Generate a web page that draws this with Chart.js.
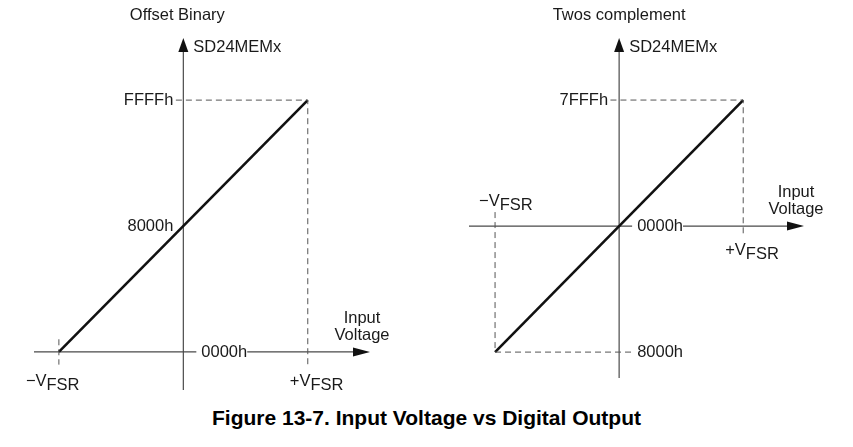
<!DOCTYPE html>
<html>
<head>
<meta charset="utf-8">
<script src="https://cdn.jsdelivr.net/npm/chart.js@4.4.1/dist/chart.umd.min.js"></script>
<style>
    body { margin: 0; background: #fff; width: 853px; height: 447px; position: relative; overflow: hidden; }
    #graphe1 { position: absolute; left: 0; top: 0; }
    #graphe2 { position: absolute; left: 426px; top: 0; }
    #legende {
        position: absolute; left: 0; top: 406px; width: 853px; line-height: 26px;
        text-align: center; font: bold 21px "Liberation Sans", Arial, sans-serif; color: #000;
    }
</style>
</head>
<body>
<canvas id="graphe1" width="426" height="400"></canvas>
<canvas id="graphe2" width="427" height="400"></canvas>
<div id="legende">Figure 13-7. Input Voltage vs Digital Output</div>
<script>
// Tension d'entrée en unités de VFSR : -VFSR et +VFSR
const tensionEntree = [-1, 1];

// Codes de sortie pour chaque format
const codesBinaireDecale = [0x0000, 0xFFFF];
const codesComplementDeux = [-0x8000, 0x7FFF];

// Graduations de l'axe vertical
const graduationsBinaireDecale = [0xFFFF, 0x8000, 0x0000];
const etiquettesBinaireDecale = ['FFFFh', '8000h', '0000h'];
const graduationsComplementDeux = [0x7FFF, 0x0000, -0x8000];
const etiquettesComplementDeux = ['7FFFh', '0000h', '8000h'];

// Lignes de rappel en pointillés (x en VFSR, y en code)
const rappelsBinaireDecale = [
    [[-0.06, 0xFFFF], [1, 0xFFFF], [1, -3300]],
    [[-1, 3300], [-1, -3300]],
];
const rappelsComplementDeux = [
    [[-0.07, 0x7FFF], [1, 0x7FFF], [1, -2860]],
    [[-1, 3640], [-1, -0x8000], [0.1, -0x8000]],
];

const titres = ['Offset Binary', 'Twos complement'];
const nomRegistre = 'SD24MEMx';
const nomAxeX = ['Input', 'Voltage'];

const POLICE = '16.5px "Liberation Sans", Arial, sans-serif';
const COULEUR_TEXTE = '#1a1a1a';
const COULEUR_AXE = '#4a4a4a';


function texteVFSR(ctx, signe, x, y) {
    // "-V" puis "FSR" légèrement abaissé
    ctx.textAlign = 'left';
    ctx.textBaseline = 'alphabetic';
    ctx.fillText(signe + 'V', x, y - 4);
    ctx.fillText('FSR', x + ctx.measureText(signe + 'V').width, y);
}


const schema = {
    id: 'schema',
    beforeDatasetsDraw(chart, args, opts) {
        const ctx = chart.ctx;
        const a = chart.chartArea;
        const x0 = chart.scales.x.getPixelForValue(0);
        const y0 = chart.scales.y.getPixelForValue(0);
        ctx.save();
        ctx.strokeStyle = COULEUR_AXE;
        ctx.fillStyle = '#111';
        ctx.lineWidth = 1.2;
        // axe vertical avec flèche
        ctx.beginPath();
        ctx.moveTo(x0, a.top + 10);
        ctx.lineTo(x0, a.bottom);
        ctx.moveTo(a.left, y0);
        ctx.lineTo(a.right - 12, y0);
        ctx.stroke();
        ctx.beginPath();
        ctx.moveTo(x0, a.top);
        ctx.lineTo(x0 - 5, a.top + 14);
        ctx.lineTo(x0 + 5, a.top + 14);
        ctx.closePath();
        ctx.fill();
        // flèche de l'axe horizontal
        ctx.beginPath();
        ctx.moveTo(a.right, y0);
        ctx.lineTo(a.right - 17, y0 - 4.5);
        ctx.lineTo(a.right - 17, y0 + 4.5);
        ctx.closePath();
        ctx.fill();
        ctx.restore();
    },
    afterDatasetsDraw(chart, args, opts) {
        const ctx = chart.ctx;
        const a = chart.chartArea;
        const sx = chart.scales.x;
        const sy = chart.scales.y;
        const x0 = sx.getPixelForValue(0);
        const y0 = sy.getPixelForValue(0);
        ctx.save();
        ctx.font = POLICE;
        ctx.fillStyle = COULEUR_TEXTE;

        // titre et nom du registre
        ctx.textAlign = 'center';
        ctx.textBaseline = 'middle';
        ctx.fillText(opts.titre, x0 + opts.decalageTitre, 15);
        ctx.textAlign = 'left';
        ctx.fillText(nomRegistre, x0 + 10, a.top + 9);

        // étiquettes de l'axe vertical
        opts.graduations.forEach((valeur, i) => {
            const y = sy.getPixelForValue(valeur);
            const texte = opts.etiquettes[i];
            if (opts.cotes[i] === 'g') {
                ctx.textAlign = 'right';
                ctx.fillText(texte, x0 - opts.ecartGauche, y);
            } else {
                const x = x0 + 18;
                const l = ctx.measureText(texte).width;
                ctx.fillStyle = '#fff';
                ctx.fillRect(x - 5, y - 3, l + 5, 6);
                ctx.fillStyle = COULEUR_TEXTE;
                ctx.textAlign = 'left';
                ctx.fillText(texte, x, y);
            }
        });

        // nom de l'axe horizontal
        ctx.textAlign = 'center';
        ctx.fillText(nomAxeX[0], a.right - 8, y0 - 34);
        ctx.fillText(nomAxeX[1], a.right - 8, y0 - 17);

        // -VFSR et +VFSR
        const xm = sx.getPixelForValue(tensionEntree[0]);
        const xp = sx.getPixelForValue(tensionEntree[1]);
        texteVFSR(ctx, '\u2212', xm + opts.moins.dx, opts.moins.y);
        texteVFSR(ctx, '+', xp - 18, opts.plus.y);
        ctx.restore();
    }
};


function creerGraphique(canvas, codes, rappels, options) {
    const jeux = rappels.map(points => ({
        data: points.map(p => ({ x: p[0], y: p[1] })),
        borderColor: '#555',
        borderWidth: 1,
        borderDash: [6, 4],
        showLine: true,
        pointRadius: 0,
    }));
    jeux.push({
        data: tensionEntree.map((v, i) => ({ x: v, y: codes[i] })),
        borderColor: '#111',
        borderWidth: 2.6,
        showLine: true,
        pointRadius: 0,
    });
    return new Chart(canvas, {
        type: 'scatter',
        data: { datasets: jeux },
        options: {
            responsive: false,
            animation: false,
            layout: { padding: options.marges },
            scales: {
                x: { type: 'linear', display: false, min: options.xMin, max: options.xMax },
                y: { type: 'linear', display: false, min: options.yMin, max: options.yMax },
            },
            plugins: {
                legend: { display: false },
                tooltip: { enabled: false },
                schema: options.schema,
            },
        },
        plugins: [schema],
    });
}


creerGraphique(document.getElementById('graphe1'), codesBinaireDecale, rappelsBinaireDecale, {
    marges: { left: 34, right: 56, top: 38, bottom: 10 },
    xMin: -1.2, xMax: 1.5, yMin: -9900, yMax: 81700,
    schema: {
        titre: titres[0], decalageTitre: -6,
        graduations: graduationsBinaireDecale, etiquettes: etiquettesBinaireDecale,
        cotes: ['g', 'g', 'd'], ecartGauche: 10,
        moins: { dx: -33, y: 390 }, plus: { y: 390 },
    },
});

creerGraphique(document.getElementById('graphe2'), codesComplementDeux, rappelsComplementDeux, {
    marges: { left: 43, right: 49, top: 38, bottom: 22 },
    xMin: -1.21, xMax: 1.49, yMin: -39500, yMax: 48900,
    schema: {
        titre: titres[1], decalageTitre: 0,
        graduations: graduationsComplementDeux, etiquettes: etiquettesComplementDeux,
        cotes: ['g', 'd', 'd'], ecartGauche: 11,
        moins: { dx: -16, y: 210 }, plus: { y: 259 },
    },
});
</script>
</body>
</html>
